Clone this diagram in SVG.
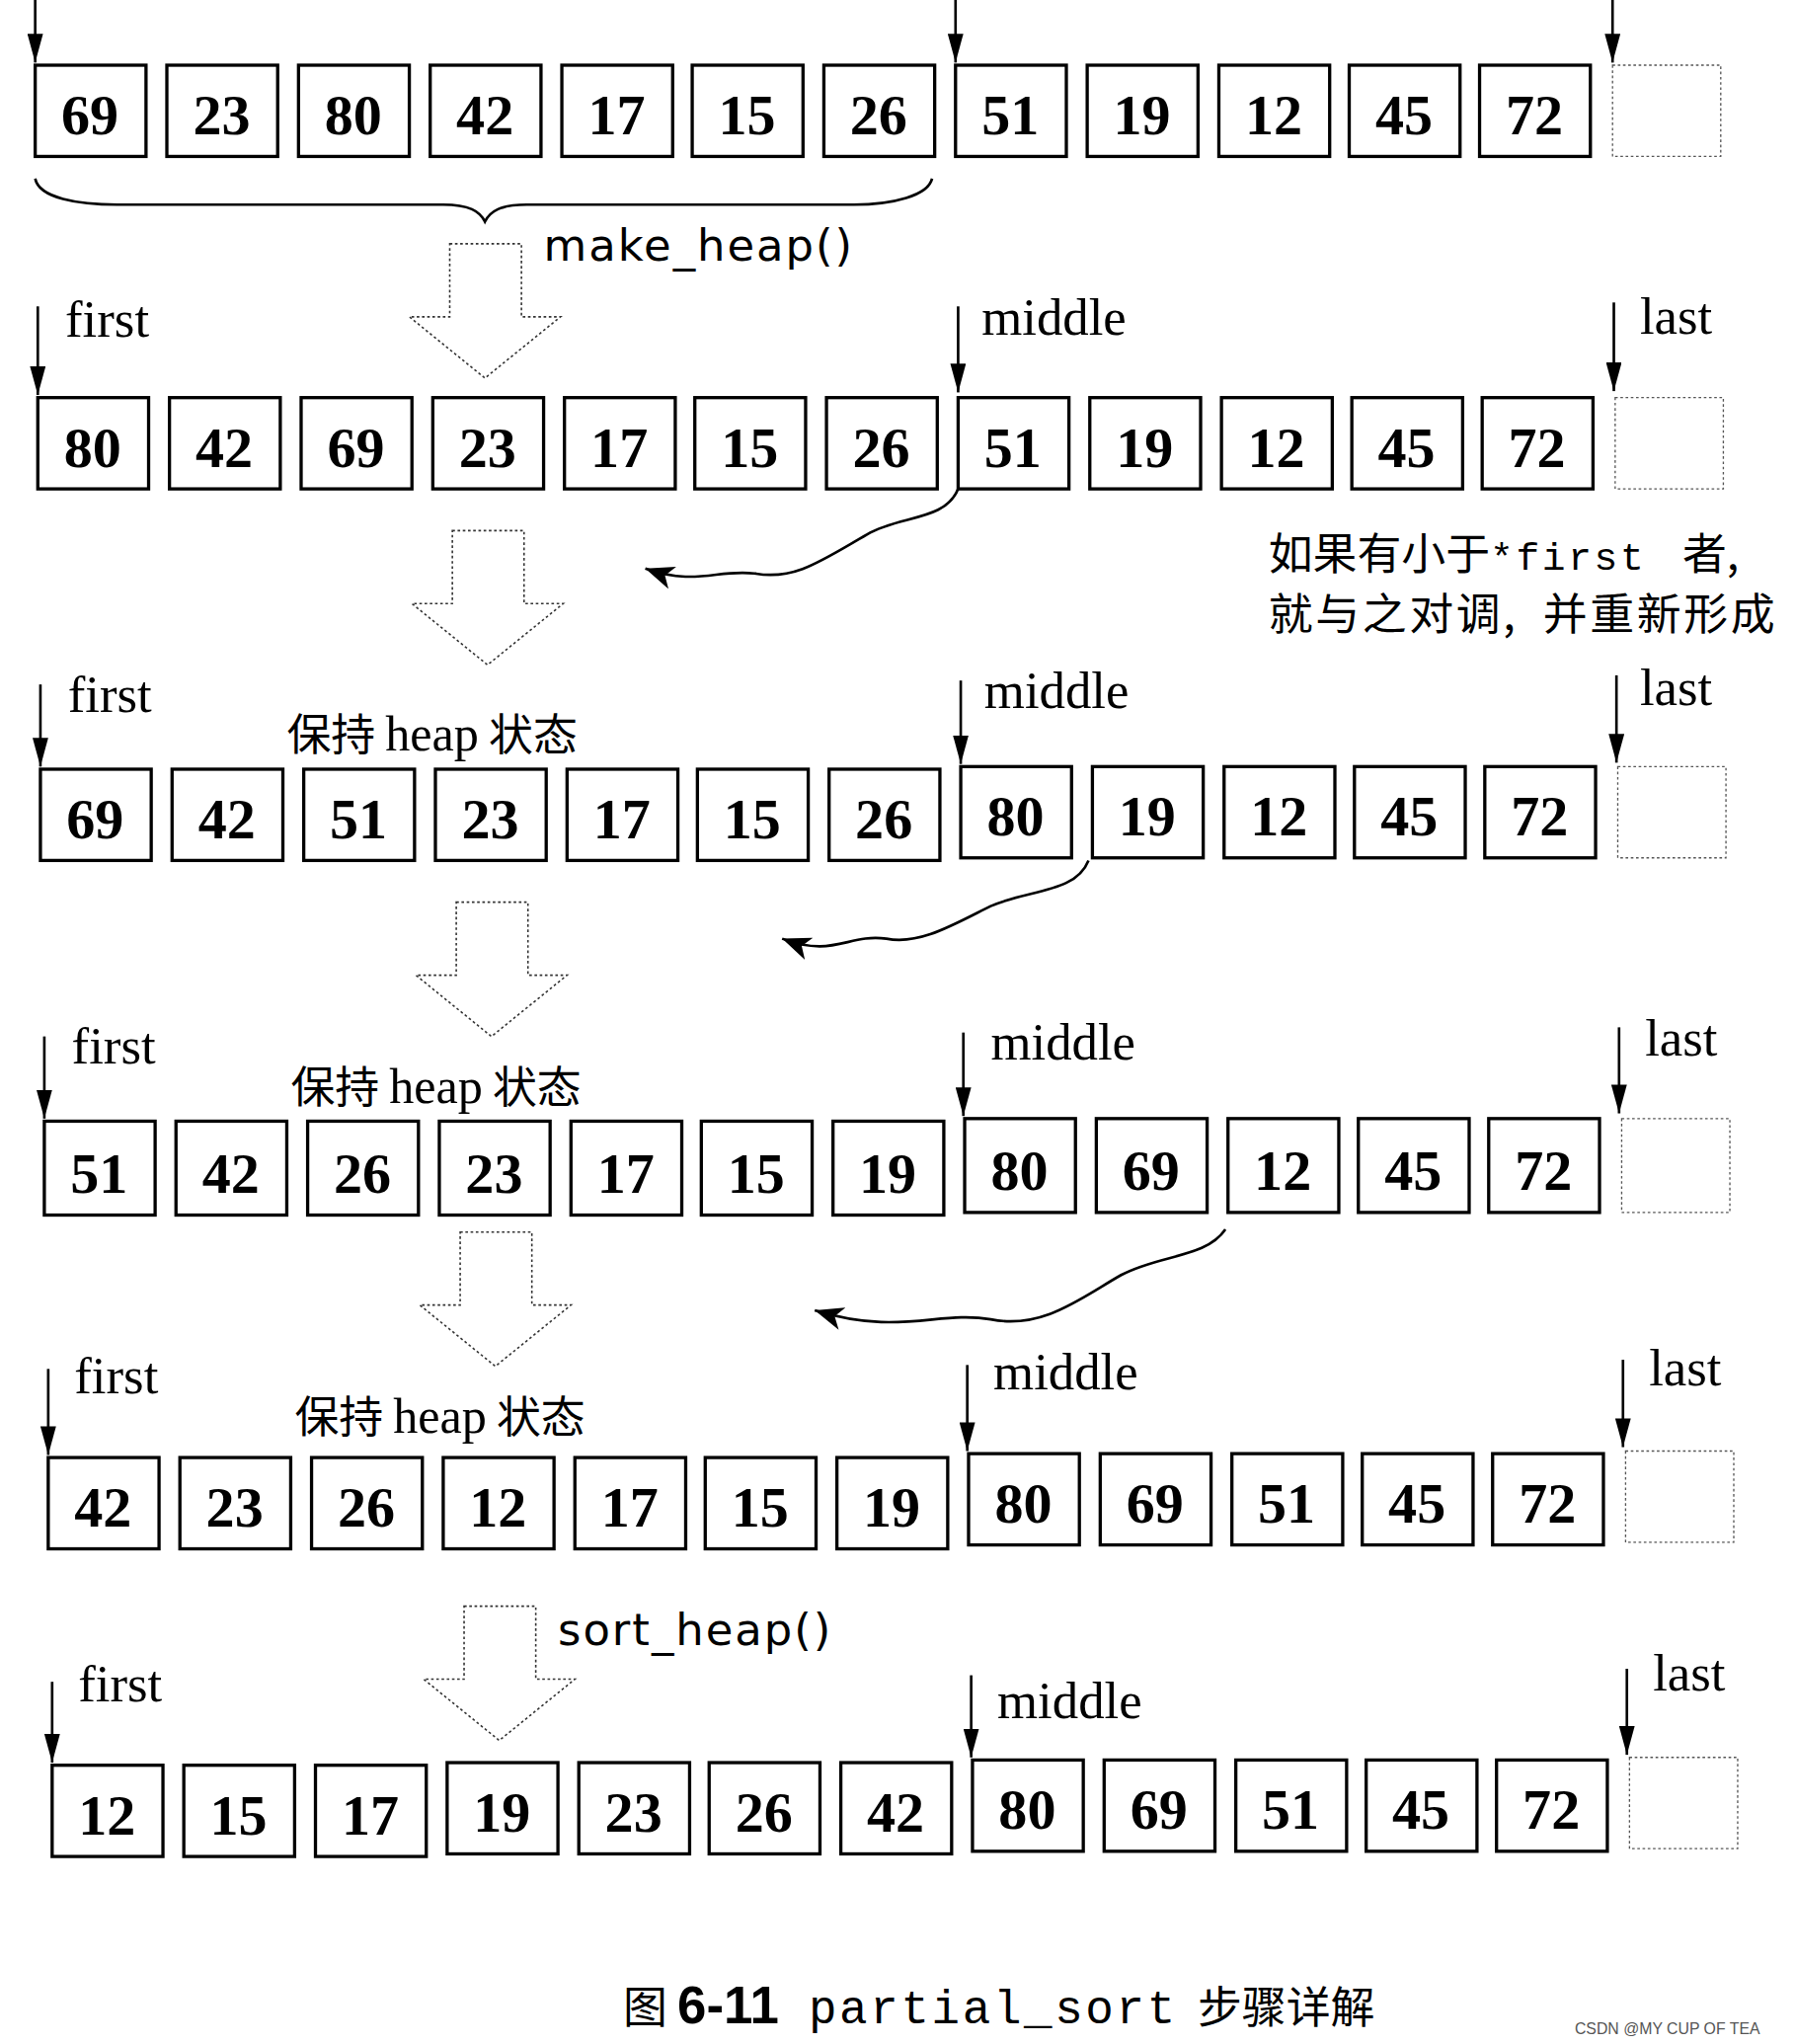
<svg xmlns="http://www.w3.org/2000/svg" width="1818" height="2070" viewBox="0 0 1818 2070">
<defs>
<marker id="ah" markerWidth="22" markerHeight="12" refX="22" refY="6" orient="auto" markerUnits="userSpaceOnUse"><path d="M0,0 L22,6 L0,12 Z" fill="#000"/></marker>
<marker id="wh" markerWidth="22" markerHeight="18" refX="22" refY="9" orient="auto" markerUnits="userSpaceOnUse"><path d="M0,0 L22,9 L0,18 L6,9 Z" fill="#000"/></marker>
<g id="hol"><path d="M-27,0 H28 V56 H58 L0,103 L-58,56 H-27 Z" fill="none" stroke="#333" stroke-width="1.2" stroke-dasharray="2,2"/></g>
</defs>
<style>
.b{fill:#fff;stroke:#000;stroke-width:2.5}
.d{fill:none;stroke:#555;stroke-width:1;stroke-dasharray:2,2}
.n{font-family:"Liberation Serif",serif;font-weight:bold;font-size:44px;text-anchor:middle}
.l{font-family:"Liberation Serif",serif;font-size:40px}
.m{font-family:"DejaVu Sans",sans-serif;font-size:34px;letter-spacing:1.5px}
.c{font-family:"Noto Sans CJK SC",sans-serif;font-size:34px}
.p{stroke:#000;stroke-width:2;fill:none}
</style>
<rect width="1818" height="2070" fill="#fff"/>
<g transform="scale(1.3203)">
<g id="rows">
<g id="row0" transform="translate(27,50)">
<rect class="b" x="0" y="0" width="85" height="70"/><text class="n" x="42" y="53">69</text>
<rect class="b" x="101" y="0" width="85" height="70"/><text class="n" x="143" y="53">23</text>
<rect class="b" x="202" y="0" width="85" height="70"/><text class="n" x="244" y="53">80</text>
<rect class="b" x="303" y="0" width="85" height="70"/><text class="n" x="345" y="53">42</text>
<rect class="b" x="404" y="0" width="85" height="70"/><text class="n" x="446" y="53">17</text>
<rect class="b" x="504" y="0" width="85" height="70"/><text class="n" x="546" y="53">15</text>
<rect class="b" x="605" y="0" width="85" height="70"/><text class="n" x="647" y="53">26</text>
<rect class="b" x="706" y="0" width="85" height="70"/><text class="n" x="748" y="53">51</text>
<rect class="b" x="807" y="0" width="85" height="70"/><text class="n" x="849" y="53">19</text>
<rect class="b" x="908" y="0" width="85" height="70"/><text class="n" x="950" y="53">12</text>
<rect class="b" x="1008" y="0" width="85" height="70"/><text class="n" x="1050" y="53">45</text>
<rect class="b" x="1108" y="0" width="85" height="70"/><text class="n" x="1150" y="53">72</text>
<rect class="d" x="1210" y="0" width="83" height="70"/>
</g>
<g id="row1" transform="translate(29,305)">
<rect class="b" x="0" y="0" width="85" height="70"/><text class="n" x="42" y="53">80</text>
<rect class="b" x="101" y="0" width="85" height="70"/><text class="n" x="143" y="53">42</text>
<rect class="b" x="202" y="0" width="85" height="70"/><text class="n" x="244" y="53">69</text>
<rect class="b" x="303" y="0" width="85" height="70"/><text class="n" x="345" y="53">23</text>
<rect class="b" x="404" y="0" width="85" height="70"/><text class="n" x="446" y="53">17</text>
<rect class="b" x="504" y="0" width="85" height="70"/><text class="n" x="546" y="53">15</text>
<rect class="b" x="605" y="0" width="85" height="70"/><text class="n" x="647" y="53">26</text>
<rect class="b" x="706" y="0" width="85" height="70"/><text class="n" x="748" y="53">51</text>
<rect class="b" x="807" y="0" width="85" height="70"/><text class="n" x="849" y="53">19</text>
<rect class="b" x="908" y="0" width="85" height="70"/><text class="n" x="950" y="53">12</text>
<rect class="b" x="1008" y="0" width="85" height="70"/><text class="n" x="1050" y="53">45</text>
<rect class="b" x="1108" y="0" width="85" height="70"/><text class="n" x="1150" y="53">72</text>
<rect class="d" x="1210" y="0" width="83" height="70"/>
</g>
<g id="row2" transform="translate(31,590)">
<rect class="b" x="0" y="0" width="85" height="70"/><text class="n" x="42" y="53">69</text>
<rect class="b" x="101" y="0" width="85" height="70"/><text class="n" x="143" y="53">42</text>
<rect class="b" x="202" y="0" width="85" height="70"/><text class="n" x="244" y="53">51</text>
<rect class="b" x="303" y="0" width="85" height="70"/><text class="n" x="345" y="53">23</text>
<rect class="b" x="404" y="0" width="85" height="70"/><text class="n" x="446" y="53">17</text>
<rect class="b" x="504" y="0" width="85" height="70"/><text class="n" x="546" y="53">15</text>
<rect class="b" x="605" y="0" width="85" height="70"/><text class="n" x="647" y="53">26</text>
<rect class="b" x="706" y="-2" width="85" height="70"/><text class="n" x="748" y="51">80</text>
<rect class="b" x="807" y="-2" width="85" height="70"/><text class="n" x="849" y="51">19</text>
<rect class="b" x="908" y="-2" width="85" height="70"/><text class="n" x="950" y="51">12</text>
<rect class="b" x="1008" y="-2" width="85" height="70"/><text class="n" x="1050" y="51">45</text>
<rect class="b" x="1108" y="-2" width="85" height="70"/><text class="n" x="1150" y="51">72</text>
<rect class="d" x="1210" y="-2" width="83" height="70"/>
</g>
<g id="row3" transform="translate(34,860)">
<rect class="b" x="0" y="0" width="85" height="72"/><text class="n" x="42" y="55">51</text>
<rect class="b" x="101" y="0" width="85" height="72"/><text class="n" x="143" y="55">42</text>
<rect class="b" x="202" y="0" width="85" height="72"/><text class="n" x="244" y="55">26</text>
<rect class="b" x="303" y="0" width="85" height="72"/><text class="n" x="345" y="55">23</text>
<rect class="b" x="404" y="0" width="85" height="72"/><text class="n" x="446" y="55">17</text>
<rect class="b" x="504" y="0" width="85" height="72"/><text class="n" x="546" y="55">15</text>
<rect class="b" x="605" y="0" width="85" height="72"/><text class="n" x="647" y="55">19</text>
<rect class="b" x="706" y="-2" width="85" height="72"/><text class="n" x="748" y="53">80</text>
<rect class="b" x="807" y="-2" width="85" height="72"/><text class="n" x="849" y="53">69</text>
<rect class="b" x="908" y="-2" width="85" height="72"/><text class="n" x="950" y="53">12</text>
<rect class="b" x="1008" y="-2" width="85" height="72"/><text class="n" x="1050" y="53">45</text>
<rect class="b" x="1108" y="-2" width="85" height="72"/><text class="n" x="1150" y="53">72</text>
<rect class="d" x="1210" y="-2" width="83" height="72"/>
</g>
<g id="row4" transform="translate(37,1118)">
<rect class="b" x="0" y="0" width="85" height="70"/><text class="n" x="42" y="53">42</text>
<rect class="b" x="101" y="0" width="85" height="70"/><text class="n" x="143" y="53">23</text>
<rect class="b" x="202" y="0" width="85" height="70"/><text class="n" x="244" y="53">26</text>
<rect class="b" x="303" y="0" width="85" height="70"/><text class="n" x="345" y="53">12</text>
<rect class="b" x="404" y="0" width="85" height="70"/><text class="n" x="446" y="53">17</text>
<rect class="b" x="504" y="0" width="85" height="70"/><text class="n" x="546" y="53">15</text>
<rect class="b" x="605" y="0" width="85" height="70"/><text class="n" x="647" y="53">19</text>
<rect class="b" x="706" y="-3" width="85" height="70"/><text class="n" x="748" y="50">80</text>
<rect class="b" x="807" y="-3" width="85" height="70"/><text class="n" x="849" y="50">69</text>
<rect class="b" x="908" y="-3" width="85" height="70"/><text class="n" x="950" y="50">51</text>
<rect class="b" x="1008" y="-3" width="85" height="70"/><text class="n" x="1050" y="50">45</text>
<rect class="b" x="1108" y="-3" width="85" height="70"/><text class="n" x="1150" y="50">72</text>
<rect class="d" x="1210" y="-5" width="83" height="70"/>
</g>
<g id="row5" transform="translate(40,1354)">
<rect class="b" x="0" y="0" width="85" height="70"/><text class="n" x="42" y="53">12</text>
<rect class="b" x="101" y="0" width="85" height="70"/><text class="n" x="143" y="53">15</text>
<rect class="b" x="202" y="0" width="85" height="70"/><text class="n" x="244" y="53">17</text>
<rect class="b" x="303" y="-2" width="85" height="70"/><text class="n" x="345" y="51">19</text>
<rect class="b" x="404" y="-2" width="85" height="70"/><text class="n" x="446" y="51">23</text>
<rect class="b" x="504" y="-2" width="85" height="70"/><text class="n" x="546" y="51">26</text>
<rect class="b" x="605" y="-2" width="85" height="70"/><text class="n" x="647" y="51">42</text>
<rect class="b" x="706" y="-4" width="85" height="70"/><text class="n" x="748" y="49">80</text>
<rect class="b" x="807" y="-4" width="85" height="70"/><text class="n" x="849" y="49">69</text>
<rect class="b" x="908" y="-4" width="85" height="70"/><text class="n" x="950" y="49">51</text>
<rect class="b" x="1008" y="-4" width="85" height="70"/><text class="n" x="1050" y="49">45</text>
<rect class="b" x="1108" y="-4" width="85" height="70"/><text class="n" x="1150" y="49">72</text>
<rect class="d" x="1210" y="-6" width="83" height="70"/>
</g>
</g>
<g id="labels">
<text class="l" x="50" y="258">first</text><text class="l" x="753" y="257">middle</text><text class="l" x="1258" y="256">last</text>
<text class="l" x="52" y="546">first</text><text class="l" x="755" y="543">middle</text><text class="l" x="1258" y="541">last</text>
<text class="l" x="55" y="816">first</text><text class="l" x="760" y="813">middle</text><text class="l" x="1262" y="810">last</text>
<text class="l" x="57" y="1069">first</text><text class="l" x="762" y="1066">middle</text><text class="l" x="1265" y="1063">last</text>
<text class="l" x="60" y="1305">first</text><text class="l" x="765" y="1318">middle</text><text class="l" x="1268" y="1297">last</text>
<text class="c" x="220" y="576">保持 <tspan font-family="Liberation Serif" font-size="38">heap</tspan> 状态</text>
<text class="c" x="223" y="846">保持 <tspan font-family="Liberation Serif" font-size="38">heap</tspan> 状态</text>
<text class="c" x="226" y="1099">保持 <tspan font-family="Liberation Serif" font-size="38">heap</tspan> 状态</text>
<text class="m" x="417" y="200">make_heap()</text>
<text class="m" x="428" y="1262">sort_heap()</text>
<text class="c" x="973" y="437" xml:space="preserve">如果有小于<tspan font-family="Liberation Mono" font-size="30" letter-spacing="2">*first </tspan> 者,</text>
<text class="c" x="973" y="483" letter-spacing="2" xml:space="preserve">就与之对调,  并重新形成</text>
<text class="c" x="478" y="1552" font-size="40" xml:space="preserve">图 <tspan font-family="Liberation Sans" font-weight="bold" font-size="40">6-11</tspan>   <tspan font-family="Liberation Mono" font-size="36" letter-spacing="2">partial_sort</tspan>  步骤详解</text>
<text x="1208" y="1560" font-family="Liberation Sans" font-size="12" fill="#555">CSDN @MY CUP OF TEA</text>
</g>
<g id="connectors">
<path class="p" d="M27,0 V48" marker-end="url(#ah)"/><path class="p" d="M733,0 V48" marker-end="url(#ah)"/><path class="p" d="M1237,0 V48" marker-end="url(#ah)"/>
<path class="p" d="M29,235 V303" marker-end="url(#ah)"/><path class="p" d="M735,235 V301" marker-end="url(#ah)"/><path class="p" d="M1238,232 V300" marker-end="url(#ah)"/>
<path class="p" d="M31,525 V588" marker-end="url(#ah)"/><path class="p" d="M737,522 V586" marker-end="url(#ah)"/><path class="p" d="M1240,518 V585" marker-end="url(#ah)"/>
<path class="p" d="M34,795 V858" marker-end="url(#ah)"/><path class="p" d="M739,792 V856" marker-end="url(#ah)"/><path class="p" d="M1242,788 V854" marker-end="url(#ah)"/>
<path class="p" d="M37,1050 V1116" marker-end="url(#ah)"/><path class="p" d="M742,1047 V1113" marker-end="url(#ah)"/><path class="p" d="M1245,1043 V1110" marker-end="url(#ah)"/>
<path class="p" d="M40,1290 V1352" marker-end="url(#ah)"/><path class="p" d="M745,1285 V1348" marker-end="url(#ah)"/><path class="p" d="M1248,1280 V1346" marker-end="url(#ah)"/>
<path class="p" d="M27,137 C30,152 60,157 90,157 H340 C360,157 368,162 372,170 C376,162 384,157 404,157 H655 C685,157 712,150 715,137"/>
<path class="p" d="M735,375 C725,400 690,395 665,410 C630,430 610,445 580,440 C550,436 535,450 495,436" marker-end="url(#wh)"/>
<path class="p" d="M835,660 C825,685 790,682 760,695 C730,710 705,725 680,720 C650,716 640,735 600,720" marker-end="url(#wh)"/>
<path class="p" d="M940,943 C925,965 890,962 860,978 C830,995 800,1020 760,1012 C720,1005 690,1025 625,1005" marker-end="url(#wh)"/>
<use href="#hol" x="372" y="187"/>
<use href="#hol" x="374" y="407"/>
<use href="#hol" x="377" y="692"/>
<use href="#hol" x="380" y="945"/>
<use href="#hol" x="383" y="1232"/>
</g>
</g>
</svg>
